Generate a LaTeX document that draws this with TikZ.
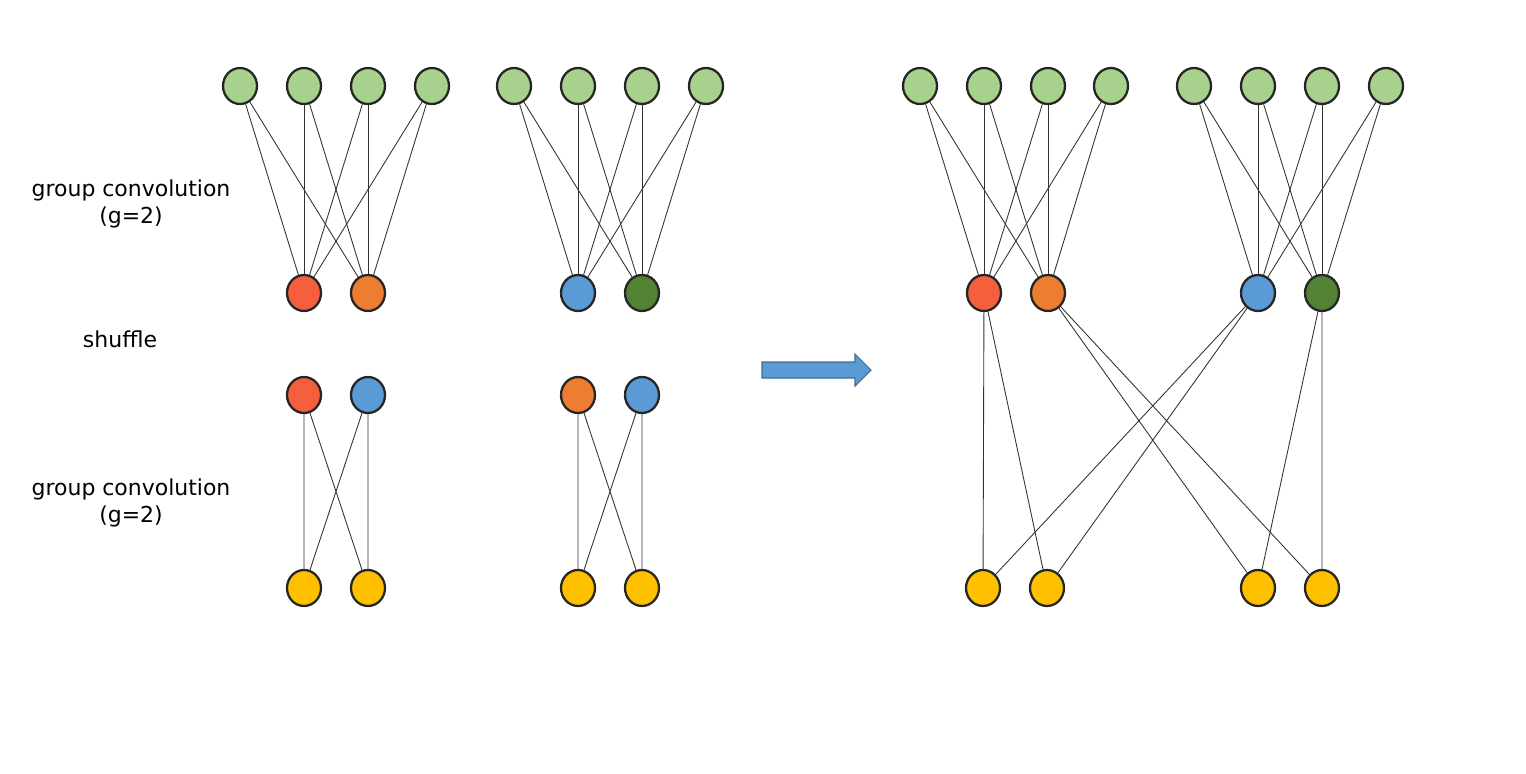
\documentclass[tikz,border=0pt]{standalone}
\usepackage{fontspec}
\setmainfont{DejaVu Sans}
\usetikzlibrary{shapes.geometric}
\begin{document}
\begin{tikzpicture}[x=0.02cm,y=-0.02cm,
 n/.style={ellipse,draw=black!85,line width=1.3pt,minimum width=0.68cm,minimum height=0.72cm,inner sep=0pt},
 lg/.style={n,fill=lgc}, rd/.style={n,fill=rdc}, og/.style={n,fill=ogc},
 bl/.style={n,fill=blc}, dg/.style={n,fill=dgc}, yl/.style={n,fill=ylc},
 e/.style={draw=black!80,line width=0.5pt},
 lab/.style={font=\fontsize{12.5}{15}\selectfont,align=center}]
\definecolor{lgc}{HTML}{A9D18E}\definecolor{rdc}{HTML}{F65F3D}
\definecolor{ogc}{HTML}{ED7D31}\definecolor{blc}{HTML}{5B9BD5}
\definecolor{dgc}{HTML}{548235}\definecolor{ylc}{HTML}{FFC000}
\useasboundingbox (0,0) rectangle (1526,774);
% left top
\foreach \x [count=\i] in {240,304,368,432,514,578,642,706} \node[lg] (t\i) at (\x,86) {};
\node[rd] (m1) at (304,293) {}; \node[og] (m2) at (368,293) {};
\node[bl] (m3) at (578,293) {}; \node[dg] (m4) at (642,293) {};
\foreach \i in {1,...,4} {\draw[e] (t\i)--(m1); \draw[e] (t\i)--(m2);}
\foreach \i in {5,...,8} {\draw[e] (t\i)--(m3); \draw[e] (t\i)--(m4);}
\node[rd] (s1) at (304,395) {}; \node[bl] (s2) at (368,395) {};
\node[og] (s3) at (578,395) {}; \node[bl] (s4) at (642,395) {};
\foreach \x [count=\i] in {304,368,578,642} \node[yl] (b\i) at (\x,588) {};
\draw[e] (s1)--(b1) (s1)--(b2) (s2)--(b1) (s2)--(b2);
\draw[e] (s3)--(b3) (s3)--(b4) (s4)--(b3) (s4)--(b4);
\node[lab] (l1) at (131,204) {group convolution\\(g=2)};
\node[lab] (l2) at (120,339) {shuffle};
\node[lab] (l3) at (131,503) {group convolution\\(g=2)};
% arrow
\draw[fill=blc,draw=blc!70!black,line width=0.6pt] (762,362)--(855,362)--(855,354)--(871,370)--(855,386)--(855,378)--(762,378)--cycle;
% right
\foreach \x [count=\i] in {920,984,1048,1111,1194,1258,1322,1386} \node[lg] (u\i) at (\x,86) {};
\node[rd] (r1) at (984,293) {}; \node[og] (r2) at (1048,293) {};
\node[bl] (r3) at (1258,293) {}; \node[dg] (r4) at (1322,293) {};
\foreach \i in {1,...,4} {\draw[e] (u\i)--(r1); \draw[e] (u\i)--(r2);}
\foreach \i in {5,...,8} {\draw[e] (u\i)--(r3); \draw[e] (u\i)--(r4);}
\foreach \x [count=\i] in {983,1047,1258,1322} \node[yl] (v\i) at (\x,588) {};
\draw[e] (r1)--(v1) (r1)--(v2) (r2)--(v3) (r2)--(v4) (r3)--(v1) (r3)--(v2) (r4)--(v3) (r4)--(v4);
\end{tikzpicture}
\end{document}
